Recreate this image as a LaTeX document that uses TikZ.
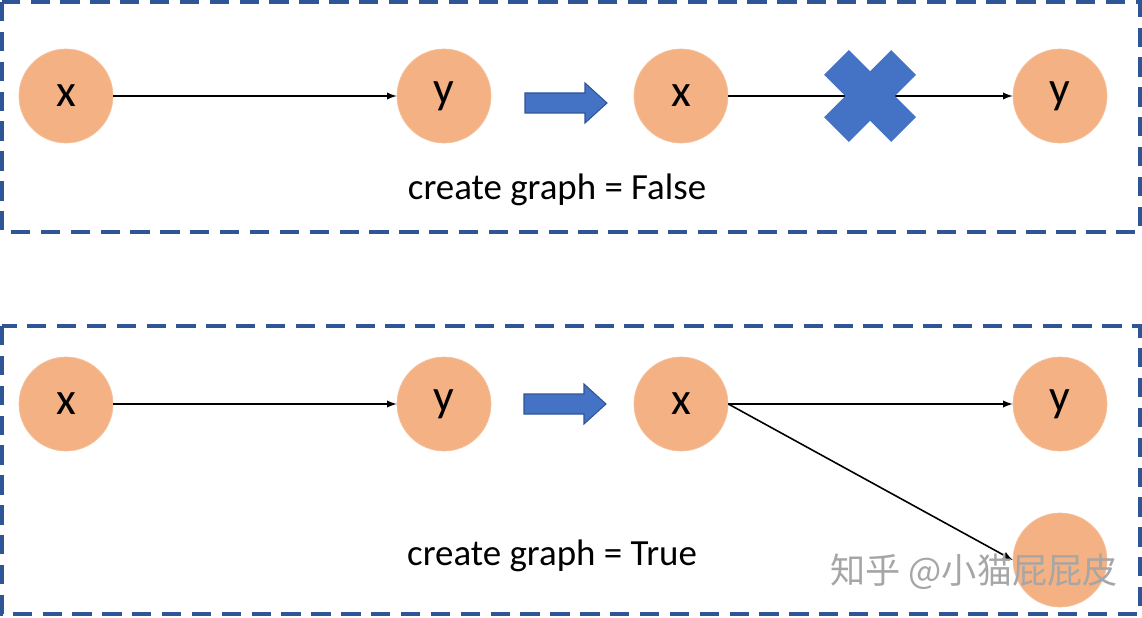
\documentclass[tikz,border=0pt]{standalone}
\usepackage{fontspec}
\setmainfont{Carlito}
\newfontfamily\cjk{Noto Sans CJK SC}
\definecolor{nodefill}{HTML}{F4B183}
\definecolor{boxblue}{HTML}{2F5597}
\definecolor{arrblue}{HTML}{4472C4}
\begin{document}
\begin{tikzpicture}[x=0.02cm,y=-0.02cm,
  vnode/.style={circle,fill=nodefill,draw=nodefill!80!white,minimum size=1.88cm,inner sep=0pt,font=\fontsize{26}{30}\selectfont},
  frame/.style={draw=boxblue,line width=2pt,dash pattern=on 11pt off 6pt},
  edge/.style={-latex,line width=0.9pt},
  blockarrow/.style={fill=arrblue,draw=boxblue,line width=0.6pt},
  crossarm/.style={fill=arrblue,minimum width=1.9cm,minimum height=0.7cm,inner sep=0pt},
  lbl/.style={font=\fontsize{21}{25}\selectfont}]
\useasboundingbox (0,0) rectangle (1142,618);
\draw[frame] (2,2) rectangle (1140,232);
\draw[frame] (2,326) rectangle (1140,614);
% top
\node[vnode] (a1) at (66,96) {x};
\node[vnode] (b1) at (444,96) {y};
\node[vnode] (c1) at (681,96) {x};
\node[vnode] (d1) at (1060,96) {y};
\draw[edge] (a1) -- (b1);
\draw[edge] (c1) -- (d1);
\coordinate (ar1) at (525,103);
\draw[blockarrow] (ar1) ++(0,-10) -- ++(60,0) -- ++(0,-10) -- ++(22,20) -- ++(-22,20) -- ++(0,-10) -- ++(-60,0) -- cycle;
\node[crossarm,rotate=45] (x1) at (870,96) {};
\node[crossarm,rotate=-45] (x2) at (870,96) {};
\node[lbl] (t1) at (557,190) {create graph = False};
% bottom
\node[vnode] (a2) at (66,404) {x};
\node[vnode] (b2) at (444,404) {y};
\node[vnode] (c2) at (681,404) {x};
\node[vnode] (d2) at (1060,404) {y};
\node[vnode] (e2) at (1060,560) {};
\draw[edge] (a2) -- (b2);
\draw[edge] (c2) -- (d2);
\draw[edge] (c2.east) -- (e2.west);
\coordinate (ar2) at (524,404);
\draw[blockarrow] (ar2) ++(0,-10) -- ++(60,0) -- ++(0,-10) -- ++(22,20) -- ++(-22,20) -- ++(0,-10) -- ++(-60,0) -- cycle;
\node[lbl] (t2) at (552,556) {create graph = True};
\node[font=\cjk\fontsize{20}{24}\selectfont,text=gray!70] (wm) at (974,572) {知乎 @小猫屁屁皮};
\end{tikzpicture}
\end{document}
